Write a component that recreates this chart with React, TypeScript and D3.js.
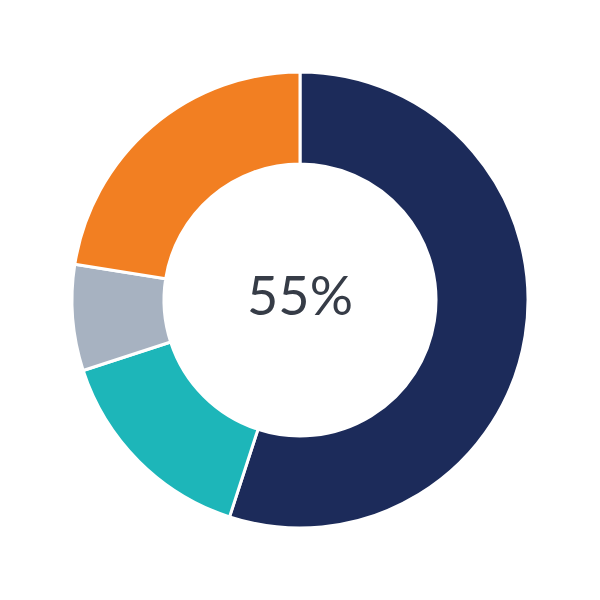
import React, { useEffect, useRef } from "react";
import * as d3 from "d3";

const labels = ["Navy", "Teal", "Gray", "Orange"];
const values = [55, 15, 7.5, 22.5];
const colors = ["#1c2b5a", "#1db6b9", "#a7b2c1", "#f27f22"];
const centerLabel = "55%";

const App = () => {
  const ref = useRef<SVGSVGElement>(null);
  const width = 600;
  const height = 600;
  const outerRadius = 228;
  const innerRadius = 136;

  useEffect(() => {
    const svg = d3.select(ref.current);
    svg.selectAll("*").remove();

    const pieData = labels.map((label, i) => ({ label, value: values[i], color: colors[i] }));
    const createPie = d3.pie<any>().value((d) => d.value).sort(null);
    const arc = d3.arc<any>().innerRadius(innerRadius).outerRadius(outerRadius);

    const group = svg
      .append("g")
      .attr("transform", `translate(${width / 2}, ${height / 2})`);

    group
      .selectAll(".arc")
      .data(createPie(pieData))
      .enter()
      .append("path")
      .attr("class", "arc")
      .attr("fill", (d) => d.data.color)
      .attr("stroke", "#ffffff")
      .attr("stroke-width", 3)
      .attr("stroke-linejoin", "round")
      .attr("d", arc);

    // big number in the hole, baseline a little below centre
    group
      .append("text")
      .attr("x", 0)
      .attr("y", 15)
      .attr("text-anchor", "middle")
      .style("font-family", "Lato, 'Open Sans', sans-serif")
      .style("font-size", "54px")
      .style("fill", "#363c47")
      .text(centerLabel);
  }, []);

  return (
    <div style={{ position: "absolute", left: 0, top: 0, width: width, height: height, background: "#fff" }}>
      <svg ref={ref} width={width} height={height}></svg>
    </div>
  );
};

export default App;
